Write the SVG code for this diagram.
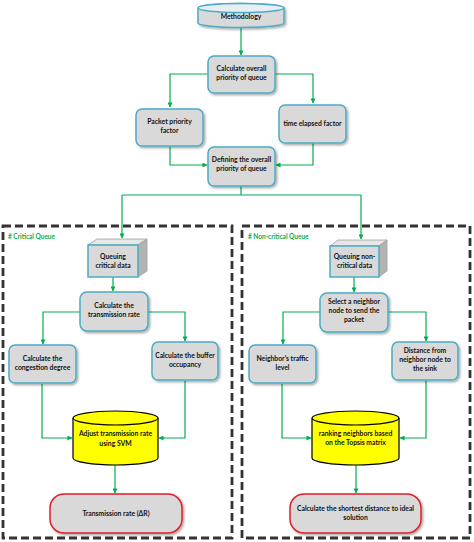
<svg xmlns="http://www.w3.org/2000/svg" width="474" height="542" viewBox="0 0 474 542">
<defs>
<filter id="sh" x="-20%" y="-20%" width="140%" height="140%"><feDropShadow dx="1.5" dy="1.5" stdDeviation="1" flood-color="#000" flood-opacity="0.35"/></filter>
<marker id="ah" viewBox="0 0 6 6" refX="5.5" refY="3" markerWidth="5" markerHeight="5" orient="auto" markerUnits="userSpaceOnUse"><path d="M0,0 L6,3 L0,6 Z" fill="#00b050"/></marker>
</defs>
<style>
.nd{fill:#d9d9d9;stroke:#4bacc6;stroke-width:1.5;filter:url(#sh)}
.rd{fill:#d9d9d9;stroke:#e0202a;stroke-width:1.5;filter:url(#sh)}
.cy{fill:#ffff00;stroke:#000;stroke-width:1.2}
.t{font-family:Lato,"Liberation Sans",sans-serif;font-weight:bold;font-size:6.8px;fill:#111;text-anchor:middle}
.lb{font-family:Lato,"Liberation Sans",sans-serif;font-weight:bold;font-size:6.5px;fill:#00b050}
.c{fill:none;stroke:#00b050;stroke-width:1.2}
.dash{fill:none;stroke:#333;stroke-width:2.8;stroke-dasharray:8,4}
</style>
<rect width="474" height="542" fill="#fff"/>
<g id="critical-box"><rect class="dash" x="3" y="226" width="229" height="312"/><text class="lb" x="8" y="239"># Critical Queue</text></g>
<g id="noncritical-box"><rect class="dash" x="242" y="226" width="228" height="312"/><text class="lb" x="248" y="239"># Non-critical Queue</text></g>
<g id="connectors">
<path class="c" d="M241,27 V55" marker-end="url(#ah)"/>
<path class="c" d="M208,74 H170 V107" marker-end="url(#ah)"/>
<path class="c" d="M275,74 H313 V103" marker-end="url(#ah)"/>
<path class="c" d="M170,147 V165 H207" marker-end="url(#ah)"/>
<path class="c" d="M313,143 V165 H276" marker-end="url(#ah)"/>
<path class="c" d="M241,186 V195"/>
<path class="c" d="M122,195 H361"/>
<path class="c" d="M122,195 V238" marker-end="url(#ah)"/>
<path class="c" d="M361,195 V239" marker-end="url(#ah)"/>
<path class="c" d="M113,277 V291" marker-end="url(#ah)"/>
<path class="c" d="M80,312 H43 V344" marker-end="url(#ah)"/>
<path class="c" d="M148,312 H185 V341" marker-end="url(#ah)"/>
<path class="c" d="M42,384 V438 H72" marker-end="url(#ah)"/>
<path class="c" d="M185,381 V438 H159" marker-end="url(#ah)"/>
<path class="c" d="M115,465 V493" marker-end="url(#ah)"/>
<path class="c" d="M354,277 V292" marker-end="url(#ah)"/>
<path class="c" d="M320,312 H283 V344" marker-end="url(#ah)"/>
<path class="c" d="M388,312 H426 V341" marker-end="url(#ah)"/>
<path class="c" d="M282,384 V438 H311" marker-end="url(#ah)"/>
<path class="c" d="M426,381 V438 H400" marker-end="url(#ah)"/>
<path class="c" d="M356,465 V493" marker-end="url(#ah)"/>
</g>
<g id="methodology">
<path d="M198,8 A43,4.5 0 0 1 284,8 V23 A43,4.5 0 0 1 198,23 Z" fill="#d9d9d9" stroke="#4bacc6" stroke-width="1.5" filter="url(#sh)"/>
<ellipse cx="241" cy="8" rx="43" ry="4.5" fill="#e8eef4" stroke="#4bacc6" stroke-width="1.5"/>
<text class="t" x="241" y="19">Methodology</text>
</g>
<g id="calc-overall"><rect class="nd" x="208" y="56" width="67" height="37" rx="6"/><text class="t" x="241.5" y="71">Calculate overall</text><text class="t" x="241.5" y="80">priority of queue</text></g>
<g id="packet-priority"><rect class="nd" x="136" y="109" width="67" height="37" rx="6"/><text class="t" x="169.5" y="124">Packet priority</text><text class="t" x="169.5" y="133">factor</text></g>
<g id="time-elapsed"><rect class="nd" x="279" y="105" width="67" height="38" rx="6"/><text class="t" x="312.5" y="126">time elapsed factor</text></g>
<g id="defining"><rect class="nd" x="208" y="147" width="67" height="39" rx="6"/><text class="t" x="241.5" y="162">Defining the overall</text><text class="t" x="241.5" y="171">priority of queue</text></g>
<g id="queuing-critical">
<path d="M88,245 L97,239 L147,239 L138,245 Z" fill="#e6e6e6" stroke="#a0a0a0" stroke-width="0.8"/>
<path d="M138,245 L147,239 L147,271 L138,277 Z" fill="#b3b3b3" stroke="#a0a0a0" stroke-width="0.8"/>
<rect x="88" y="245" width="50" height="32" fill="#d9d9d9" stroke="#4bacc6" stroke-width="1.5"/>
<text class="t" x="113" y="259">Queuing</text><text class="t" x="113" y="268">critical data</text>
</g>
<g id="calc-rate"><rect class="nd" x="80" y="292" width="68" height="39" rx="7"/><text class="t" x="114" y="308">Calculate the</text><text class="t" x="114" y="317">transmission rate</text></g>
<g id="congestion"><rect class="nd" x="9" y="345" width="67" height="38" rx="6"/><text class="t" x="42.5" y="361">Calculate the</text><text class="t" x="42.5" y="370">congestion degree</text></g>
<g id="buffer"><rect class="nd" x="152" y="342" width="66" height="38" rx="6"/><text class="t" x="185" y="358">Calculate the buffer</text><text class="t" x="185" y="367">occupancy</text></g>
<g id="adjust-svm">
<path class="cy" d="M73,418 A42.5,7 0 0 1 158,418 V458 A42.5,7 0 0 1 73,458 Z"/>
<path d="M73,418 A42.5,7 0 0 0 158,418" fill="none" stroke="#000" stroke-width="1.2"/>
<text class="t" x="115.5" y="436">Adjust transmission rate</text><text class="t" x="115.5" y="446">using SVM</text>
</g>
<g id="transmission-rate"><rect class="rd" x="50" y="494" width="132" height="39" rx="14"/><text class="t" x="116" y="516">Transmission rate (ΔR)</text></g>
<g id="queuing-noncritical">
<path d="M330,246 L338,240 L387,240 L379,246 Z" fill="#e6e6e6" stroke="#a0a0a0" stroke-width="0.8"/>
<path d="M379,246 L387,240 L387,271 L379,277 Z" fill="#b3b3b3" stroke="#a0a0a0" stroke-width="0.8"/>
<rect x="330" y="246" width="49" height="31" fill="#d9d9d9" stroke="#4bacc6" stroke-width="1.5"/>
<text class="t" x="354.5" y="259">Queuing non-</text><text class="t" x="354.5" y="268">critical data</text>
</g>
<g id="select-neighbor"><rect class="nd" x="320" y="293" width="68" height="39" rx="7"/><text class="t" x="354" y="304">Select a neighbor</text><text class="t" x="354" y="313">node to send the</text><text class="t" x="354" y="322">packet</text></g>
<g id="traffic"><rect class="nd" x="249" y="345" width="67" height="38" rx="6"/><text class="t" x="282.5" y="361">Neighbor’s traffic</text><text class="t" x="282.5" y="370">level</text></g>
<g id="distance"><rect class="nd" x="392" y="342" width="66" height="38" rx="6"/><text class="t" x="425" y="353">Distance from</text><text class="t" x="425" y="362">neighbor node to</text><text class="t" x="425" y="371">the sink</text></g>
<g id="ranking">
<path class="cy" d="M312,418 A43.5,7 0 0 1 399,418 V458 A43.5,7 0 0 1 312,458 Z"/>
<path d="M312,418 A43.5,7 0 0 0 399,418" fill="none" stroke="#000" stroke-width="1.2"/>
<text class="t" x="355.5" y="436">ranking neighbors based</text><text class="t" x="355.5" y="445">on the Topsis matrix</text>
</g>
<g id="shortest"><rect class="rd" x="290" y="494" width="131" height="39" rx="14"/><text class="t" x="355.5" y="511">Calculate the shortest distance to ideal</text><text class="t" x="355.5" y="520">solution</text></g>
</svg>
